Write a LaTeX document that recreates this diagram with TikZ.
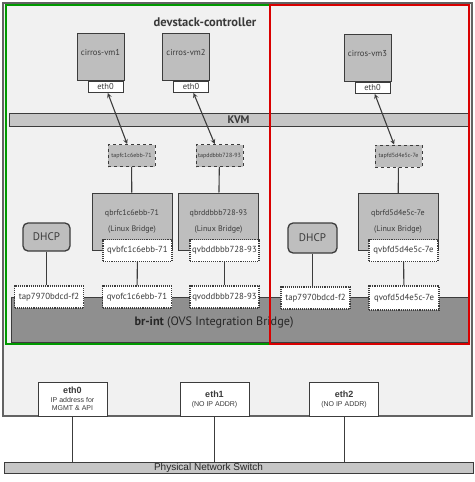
\documentclass[tikz,border=0pt]{standalone}
\usepackage{fontspec}
\setmainfont{PT Sans}
\newfontfamily\helv{Liberation Sans}
\definecolor{boxgrey}{HTML}{BEBEBE}
\definecolor{bargrey}{HTML}{C6C6C6}
\definecolor{brgrey}{HTML}{8F8F8F}
\definecolor{hostbg}{HTML}{F1F1F1}
\definecolor{edgegrey}{HTML}{3C3C3C}
\definecolor{textgrey}{HTML}{3A3A3A}
\tikzset{
  every node/.style={text=textgrey, inner sep=0pt},
  conn/.style={draw=edgegrey, line width=1.1pt},
  vmbox/.style={draw=edgegrey, line width=1pt, fill=boxgrey, minimum width=47pt, minimum height=47pt, text depth=10pt, font=\fontsize{8.6}{9}\selectfont},
  ethport/.style={draw=edgegrey, line width=1pt, fill=white, minimum width=35pt, minimum height=11pt, font=\fontsize{8.5}{9}\selectfont},
  tapdev/.style={draw=edgegrey, line width=1pt, dashed, fill=boxgrey, minimum width=47pt, minimum height=22pt, font=\fontsize{6}{6}\selectfont},
  bridgebox/.style={draw=edgegrey, line width=1pt, fill=boxgrey, minimum width=80pt, minimum height=57pt, align=center, font=\fontsize{8}{16}\selectfont},
  vethport/.style={draw=edgegrey, line width=1.1pt, densely dotted, fill=white, minimum width=69pt, minimum height=22pt, font=\fontsize{8.8}{9}\selectfont},
  dhcpbox/.style={draw=edgegrey, line width=1.3pt, rounded corners=5pt, fill=boxgrey, minimum width=47pt, minimum height=28pt, font=\fontsize{11}{12}\selectfont},
  nicbox/.style={draw=edgegrey, line width=0.8pt, fill=white, minimum width=69pt, minimum height=34pt, align=center, font=\helv\fontsize{7}{8.5}\selectfont},
}
\begin{document}
\begin{tikzpicture}[>=stealth, x=1pt, y=-1pt]
\useasboundingbox (0,0) rectangle (474,482);
% host
\draw[draw=edgegrey!80, line width=1.5pt, fill=hostbg] (3,3) rectangle (472,416);
\node[font=\bfseries\fontsize{12.5}{14}\selectfont] (title) at (205,22) {devstack-controller};

% virtual machines
\node[vmbox] (vm1) at (100.5,57) {cirros-vm1};
\node[vmbox] (vm2) at (186,57) {cirros-vm2};
\node[vmbox] (vm3) at (367.5,58) {cirros-vm3};
\node[ethport, anchor=north east, xshift=-1pt] (vm1eth) at (vm1.south east) {eth0};
\node[ethport, anchor=north east, xshift=-1pt] (vm2eth) at (vm2.south east) {eth0};
\node[ethport, anchor=north east, xshift=-1pt] (vm3eth) at (vm3.south east) {eth0};

\node[draw=edgegrey, line width=1pt, fill=bargrey, minimum width=459pt, minimum height=13pt,
      font=\bfseries\fontsize{11}{12}\selectfont] (kvm) at (238.5,119.5) {KVM};

% tap devices
\node[tapdev] (tap1) at (131.5,155.5) {tapfc1c6ebb-71};
\node[tapdev] (tap2) at (219.5,155.5) {tapddbbb728-93};
\node[tapdev] (tap3) at (398.5,156) {tapfd5d4e5c-7e};

% linux bridges
\node[bridgebox] (qbr1) at (132,221.5) {qbrfc1c6ebb-71\\(Linux Bridge)};
\node[bridgebox] (qbr2) at (218.5,221.5) {qbrddbbb728-93\\(Linux Bridge)};
\node[bridgebox] (qbr3) at (398,222) {qbrfd5d4e5c-7e\\(Linux Bridge)};
\node[vethport] (qvb1) at (137.5,250.5) {qvbfc1c6ebb-71};
\node[vethport] (qvb2) at (224.5,250.5) {qvbddbbb728-93};
\node[vethport] (qvb3) at (403.5,250.5) {qvbfd5d4e5c-7e};

\node[dhcpbox] (dhcp1) at (46.5,237) {DHCP};
\node[dhcpbox, minimum width=49pt, minimum height=30pt] (dhcp2) at (312.5,238) {DHCP};

% br-int
\node[draw=edgegrey, line width=1pt, fill=brgrey, minimum width=457pt, minimum height=45pt,
      anchor=north west, label={[xshift=-26pt, yshift=-2.5pt, text=black!85,
      font=\fontsize{12.2}{13}\selectfont]center:\textbf{br-int} (OVS Integration Bridge)}] (brint) at (11,297) {};
\node[vethport] (tapL) at (49,297) {tap7970bdcd-f2};
\node[vethport] (qvo1) at (137,297) {qvofc1c6ebb-71};
\node[vethport] (qvo2) at (224.5,297) {qvoddbbb728-93};
\node[vethport] (tapR) at (315.5,298) {tap7970bdcd-f2};
\node[vethport, minimum width=70pt, minimum height=24pt] (qvo3) at (404,298) {qvofd5d4e5c-7e};

% connectors
\draw[conn, <->] (vm1eth) -- (tap1);
\draw[conn, <->] (vm2eth) -- (tap2);
\draw[conn, <->] (vm3eth) -- (tap3);
\draw[conn] (tap1) -- (qbr1);
\draw[conn] (tap2) -- (qbr2);
\draw[conn] (tap3) -- (qbr3);
\draw[conn] (qvb1) -- (qvo1);
\draw[conn] (qvb2) -- (qvo2);
\draw[conn] (qvb3) -- (qvo3);
\draw[conn] (dhcp1.south) -- (dhcp1.south |- tapL.north);
\draw[conn] (dhcp2.south) -- (dhcp2.south |- tapR.north);

% compute / network split
\draw[green!60!black, line width=1.5pt] (6,5) rectangle (270,344);
\draw[red!85!black, line width=1.5pt] (270,5) rectangle (469,344);

% physical interfaces
\node[nicbox] (nic0) at (72.5,399) {{\fontsize{9}{11}\selectfont\bfseries eth0}\\IP address for\\MGMT \& API};
\node[nicbox] (nic1) at (214.5,399.5) {{\fontsize{9}{13}\selectfont\bfseries eth1}\\(NO IP ADDR)};
\node[nicbox] (nic2) at (344,399.5) {{\fontsize{9}{13}\selectfont\bfseries eth2}\\(NO IP ADDR)};
\node[draw=edgegrey, line width=0.8pt, fill=bargrey, minimum width=469pt, minimum height=11pt,
      label={[xshift=-30pt, font=\helv\fontsize{10}{11}\selectfont, text=black!85]center:Physical Network Switch}] (switch) at (238.5,467.5) {};
\draw[draw=edgegrey, line width=0.8pt] (nic0) -- (nic0 |- switch.north);
\draw[draw=edgegrey, line width=0.8pt] (nic1) -- (nic1 |- switch.north);
\draw[draw=edgegrey, line width=0.8pt] (nic2) -- (nic2 |- switch.north);
\end{tikzpicture}
\end{document}
